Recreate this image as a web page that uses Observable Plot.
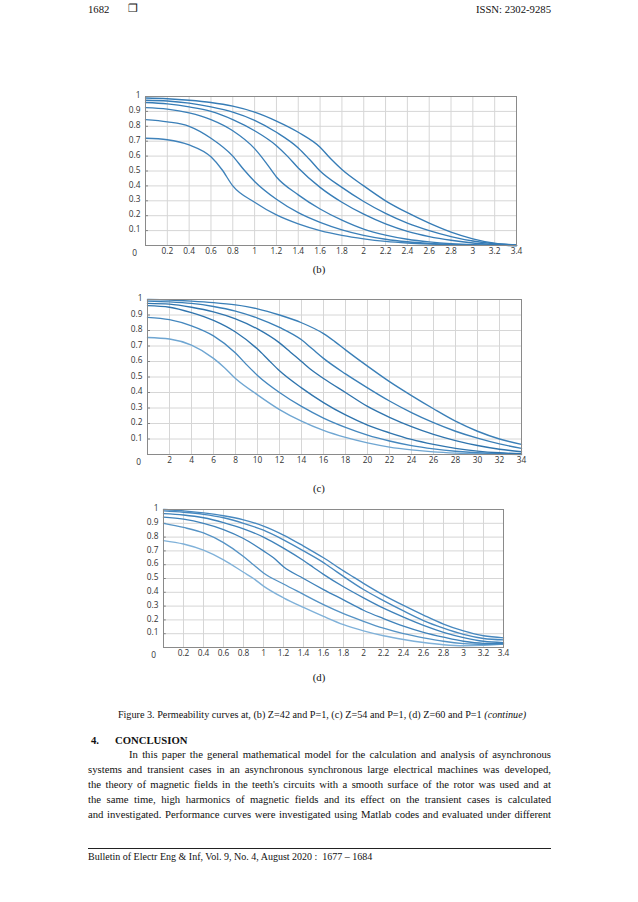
<!DOCTYPE html>
<html><head><meta charset="utf-8">
<script src="https://cdn.jsdelivr.net/npm/d3@7"></script>
<script src="https://cdn.jsdelivr.net/npm/@observablehq/plot@0.6"></script>
<style>
body{margin:0;background:#fff;}
#page{position:relative;width:638px;height:902px;overflow:hidden;background:#fff;font-family:"Liberation Serif","Times New Roman",serif;color:#111;}
.abs{position:absolute;white-space:nowrap;}
.lbl{font-size:10.7px;width:638px;left:0;text-align:center;}
.pl{position:absolute;left:88px;width:463px;font-size:10.7px;text-align:justify;text-align-last:justify;white-space:nowrap;}
.chart{position:absolute;}
</style></head><body><div id="page">
<div class="abs" style="left:88px;top:3px;font-size:10.7px;">1682</div>
<div class="abs" style="left:128px;top:2px;font-size:11px;font-family:'DejaVu Sans';">&#x2750;</div>
<div class="abs" style="right:87px;top:3px;font-size:10.7px;">ISSN: 2302-9285</div>

<div id="cb" class="chart" style="left:95px;top:84px;"></div>
<div class="abs lbl" style="top:263px;">(b)</div>
<div id="cc" class="chart" style="left:95px;top:288px;"></div>
<div class="abs lbl" style="top:482px;">(c)</div>
<div id="cd" class="chart" style="left:115px;top:497px;"></div>
<div class="abs lbl" style="top:671px;">(d)</div>

<div class="abs lbl" style="top:709px;font-size:10.2px;left:3px;">Figure 3. Permeability curves at, (b) Z=42 and P=1, (c) Z=54 and P=1, (d) Z=60 and P=1 <i>(continue)</i></div>

<div class="abs" style="left:91px;top:734px;font-size:10.7px;font-weight:bold;">4.</div>
<div class="abs" style="left:115px;top:734px;font-size:10.7px;font-weight:bold;">CONCLUSION</div>
<div class="pl" style="top:748px;left:129px;width:422px;">In this paper the general mathematical model for the calculation and analysis of asynchronous</div>
<div class="pl" style="top:763px;">systems and transient cases in an asynchronous synchronous large electrical machines was developed,</div>
<div class="pl" style="top:778px;">the theory of magnetic fields in the teeth's circuits with a smooth surface of the rotor was used and at</div>
<div class="pl" style="top:793px;">the same time, high harmonics of magnetic fields and its effect on the transient cases is calculated</div>
<div class="pl" style="top:808px;">and investigated. Performance curves were investigated using Matlab codes and evaluated under different</div>

<div class="abs" style="left:88px;top:848px;width:463px;height:0;border-top:1px solid #222;"></div>
<div class="abs" style="left:88px;top:851px;font-size:10px;">Bulletin of Electr Eng &amp; Inf, Vol. 9, No. 4, August 2020 :&nbsp; 1677 – 1684</div>
</div>
<script>
// ---- tick labels ----
const yTicks = [0.1, 0.2, 0.3, 0.4, 0.5, 0.6, 0.7, 0.8, 0.9, 1];
const bTicksX = [0.2, 0.4, 0.6, 0.8, 1, 1.2, 1.4, 1.6, 1.8, 2, 2.2, 2.4, 2.6, 2.8, 3, 3.2, 3.4];
const cTicksX = [2, 4, 6, 8, 10, 12, 14, 16, 18, 20, 22, 24, 26, 28, 30, 32, 34];
const dTicksX = [0.2, 0.4, 0.6, 0.8, 1, 1.2, 1.4, 1.6, 1.8, 2, 2.2, 2.4, 2.6, 2.8, 3, 3.2, 3.4];

// ---- (b) Z=42, P=1 ----
const b1 = [[0,0.72],[0.2,0.71],[0.4,0.675],[0.6,0.595],[0.7,0.51],[0.8,0.40],[1.0,0.29],[1.2,0.205],[1.4,0.145],[1.6,0.10],[1.8,0.068],[2.0,0.045],[2.2,0.028],[2.4,0.017],[2.6,0.010],[2.8,0.005],[3.0,0.002],[3.2,0.001],[3.4,0]];
const b2 = [[0,0.845],[0.2,0.83],[0.4,0.80],[0.6,0.72],[0.8,0.60],[0.9,0.51],[1.0,0.43],[1.2,0.31],[1.4,0.22],[1.6,0.155],[1.8,0.105],[2.0,0.068],[2.2,0.042],[2.4,0.025],[2.6,0.014],[2.8,0.007],[3.0,0.003],[3.2,0.001],[3.4,0]];
const b3 = [[0,0.925],[0.2,0.915],[0.4,0.89],[0.6,0.845],[0.8,0.77],[1.0,0.65],[1.1,0.56],[1.2,0.46],[1.4,0.34],[1.6,0.245],[1.8,0.17],[2.0,0.11],[2.2,0.07],[2.4,0.042],[2.6,0.024],[2.8,0.012],[3.0,0.005],[3.2,0.002],[3.4,0]];
const b4 = [[0,0.96],[0.2,0.95],[0.4,0.93],[0.6,0.90],[0.8,0.845],[1.0,0.77],[1.2,0.67],[1.3,0.60],[1.4,0.52],[1.6,0.39],[1.8,0.29],[2.0,0.21],[2.2,0.145],[2.4,0.095],[2.6,0.06],[2.8,0.035],[3.0,0.017],[3.2,0.007],[3.4,0.002]];
const b5 = [[0,0.975],[0.2,0.97],[0.4,0.955],[0.6,0.93],[0.8,0.895],[1.0,0.84],[1.2,0.76],[1.4,0.655],[1.5,0.58],[1.6,0.50],[1.8,0.39],[2.0,0.295],[2.2,0.215],[2.4,0.15],[2.6,0.10],[2.8,0.06],[3.0,0.03],[3.2,0.012],[3.4,0.003]];
const b6 = [[0,0.99],[0.2,0.985],[0.4,0.975],[0.6,0.96],[0.8,0.935],[1.0,0.895],[1.2,0.835],[1.4,0.76],[1.6,0.66],[1.7,0.58],[1.8,0.51],[2.0,0.40],[2.2,0.30],[2.4,0.22],[2.6,0.15],[2.8,0.09],[3.0,0.045],[3.2,0.015],[3.4,0.003]];

// ---- (c) Z=54, P=1 ----
const c1 = [[0,0.755],[2,0.745],[4,0.705],[6,0.62],[7,0.56],[8,0.49],[10,0.385],[12,0.29],[14,0.215],[16,0.155],[18,0.11],[20,0.075],[22,0.048],[24,0.03],[26,0.017],[28,0.009],[30,0.004],[32,0.002],[34,0]];
const c2 = [[0,0.885],[2,0.87],[4,0.83],[6,0.765],[8,0.655],[9,0.58],[10,0.51],[12,0.40],[14,0.31],[16,0.235],[18,0.175],[20,0.125],[22,0.087],[24,0.057],[26,0.036],[28,0.021],[30,0.011],[32,0.005],[34,0.002]];
const c3 = [[0,0.96],[2,0.95],[4,0.915],[6,0.865],[8,0.79],[10,0.68],[11,0.61],[12,0.54],[14,0.43],[16,0.335],[18,0.255],[20,0.19],[22,0.14],[24,0.097],[26,0.065],[28,0.04],[30,0.022],[32,0.011],[34,0.005]];
const c4 = [[0,0.975],[2,0.97],[4,0.95],[6,0.92],[8,0.875],[10,0.81],[12,0.72],[13,0.66],[14,0.60],[15,0.54],[16,0.49],[18,0.40],[20,0.31],[22,0.24],[24,0.18],[26,0.13],[28,0.09],[30,0.058],[32,0.034],[34,0.018]];
const c5 = [[0,0.99],[2,0.985],[4,0.975],[6,0.955],[8,0.925],[10,0.88],[12,0.82],[14,0.74],[15,0.68],[16,0.62],[18,0.52],[20,0.43],[22,0.345],[24,0.27],[26,0.205],[28,0.15],[30,0.105],[32,0.068],[34,0.04]];
const c6 = [[0,1.0],[2,0.997],[4,0.99],[6,0.98],[8,0.965],[10,0.94],[12,0.90],[14,0.85],[16,0.78],[17,0.73],[18,0.675],[20,0.57],[22,0.47],[24,0.38],[26,0.295],[28,0.215],[30,0.15],[32,0.10],[34,0.065]];

// ---- (d) Z=60, P=1 ----
const d1 = [[0,0.775],[0.2,0.75],[0.4,0.705],[0.6,0.635],[0.8,0.545],[0.9,0.50],[1.0,0.445],[1.2,0.36],[1.4,0.29],[1.6,0.225],[1.8,0.165],[2.0,0.12],[2.2,0.085],[2.4,0.058],[2.6,0.036],[2.8,0.02],[3.0,0.013],[3.2,0.016],[3.4,0.025]];
const d2 = [[0,0.90],[0.2,0.87],[0.4,0.83],[0.6,0.76],[0.8,0.66],[0.9,0.60],[1.0,0.54],[1.2,0.46],[1.4,0.385],[1.6,0.31],[1.8,0.245],[2.0,0.19],[2.2,0.14],[2.4,0.10],[2.6,0.07],[2.8,0.045],[3.0,0.028],[3.2,0.022],[3.4,0.025]];
const d3v = [[0,0.945],[0.2,0.93],[0.4,0.90],[0.6,0.855],[0.8,0.79],[1.0,0.70],[1.1,0.65],[1.2,0.585],[1.4,0.50],[1.6,0.42],[1.8,0.345],[2.0,0.27],[2.2,0.21],[2.4,0.155],[2.6,0.11],[2.8,0.075],[3.0,0.045],[3.2,0.03],[3.4,0.028]];
const d4 = [[0,0.97],[0.2,0.96],[0.4,0.94],[0.6,0.905],[0.8,0.86],[1.0,0.80],[1.2,0.72],[1.4,0.63],[1.5,0.58],[1.6,0.53],[1.8,0.44],[2.0,0.36],[2.2,0.285],[2.4,0.22],[2.6,0.16],[2.8,0.11],[3.0,0.072],[3.2,0.045],[3.4,0.035]];
const d5 = [[0,0.99],[0.2,0.98],[0.4,0.965],[0.6,0.94],[0.8,0.90],[1.0,0.85],[1.2,0.78],[1.4,0.70],[1.6,0.615],[1.7,0.565],[1.8,0.515],[2.0,0.42],[2.2,0.34],[2.4,0.265],[2.6,0.195],[2.8,0.14],[3.0,0.095],[3.2,0.065],[3.4,0.055]];
const d6 = [[0,1.0],[0.2,0.99],[0.4,0.975],[0.6,0.955],[0.8,0.925],[1.0,0.88],[1.2,0.815],[1.4,0.735],[1.6,0.65],[1.8,0.555],[1.9,0.51],[2.0,0.465],[2.2,0.38],[2.4,0.305],[2.6,0.235],[2.8,0.17],[3.0,0.12],[3.2,0.085],[3.4,0.07]];

const bColors = ["#3f82ba", "#3a7fb8", "#3a7fb8", "#367cb6", "#367cb6", "#367cb6"];
const cColors = ["#6fa6d2", "#4487be", "#2f74ad", "#2f74ad", "#3a7fb7", "#3a7fb7"];
const dColors = ["#7fb1d9", "#5593c5", "#3f82ba", "#3f82ba", "#4788bf", "#4788bf"];

function makeChart(el, curves, colors, xDomain, xTicks, o) {
  const data = curves.flatMap((c, i) => c.map(([x, y]) => ({x, y, k: i, col: colors[i]})));
  const fmt = v => String(v);
  const tickLen = (xDomain[1] - xDomain[0]) * 0.008;
  const chart = Plot.plot({
    width: o.width, height: o.height,
    marginLeft: o.ml, marginRight: o.mr, marginTop: o.mt, marginBottom: o.mb,
    x: {domain: xDomain},
    y: {domain: [0, 1]},
    color: {type: "identity"},
    style: {fontFamily: "'Open Sans', sans-serif", fontSize: "8.3px", color: "#333", background: "transparent"},
    marks: [
      Plot.gridX(xTicks, {stroke: "#d6d6d6", strokeOpacity: 1, strokeWidth: 1}),
      Plot.gridY(yTicks, {stroke: "#d6d6d6", strokeOpacity: 1, strokeWidth: 1}),
      Plot.axisX(xTicks, {tickSize: 0, tickPadding: 3, tickFormat: fmt, label: null}),
      Plot.axisY(yTicks, {tickSize: 0, tickPadding: 5, tickFormat: fmt, label: null, dy: -1}),
      Plot.ruleY(yTicks, {y: d => d, x1: xDomain[0], x2: xDomain[0] + tickLen, stroke: "#777", strokeWidth: 0.9}),
      Plot.line(data, {x: "x", y: "y", z: "k", stroke: "col", curve: "monotone-x", strokeWidth: 1.35}),
      Plot.frame({stroke: "#8a8a8a", strokeWidth: 1}),
      Plot.text(["0"], {frameAnchor: "bottom-left", textAnchor: "middle", lineAnchor: "middle", dx: o.zdx, dy: 8, fill: "#333"})
    ]
  });
  document.getElementById(el).appendChild(chart);
}

makeChart("cb", [b1, b2, b3, b4, b5, b6], bColors, [0, 3.4], bTicksX,
  {width: 436, height: 177, ml: 50, mr: 15, mt: 12, mb: 16, zdx: -11});
makeChart("cc", [c1, c2, c3, c4, c5, c6], cColors, [0, 34], cTicksX,
  {width: 436, height: 180, ml: 52, mr: 10, mt: 11, mb: 14, zdx: -9});
makeChart("cd", [d1, d2, d3v, d4, d5, d6], dColors, [0, 3.4], dTicksX,
  {width: 402, height: 166, ml: 48, mr: 14, mt: 12, mb: 16, zdx: -10});
</script>
</body></html>
